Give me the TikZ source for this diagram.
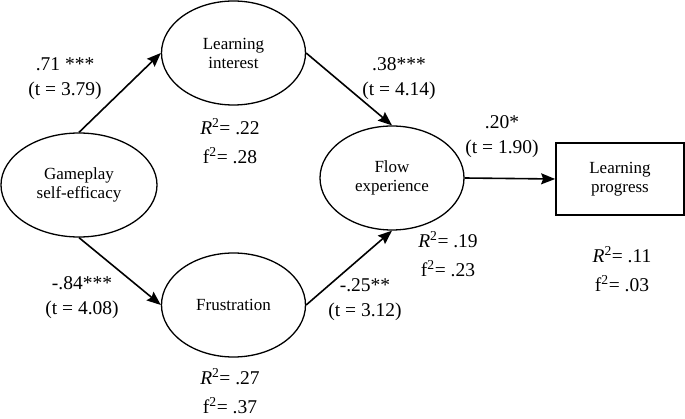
\documentclass[tikz,border=0pt]{standalone}
\usepackage{fontspec}
\setmainfont{Liberation Serif}
\usetikzlibrary{shapes.geometric,arrows.meta}

\begin{document}
\begin{tikzpicture}[x=1pt,y=-1pt,
        latent/.style={draw,ellipse,line width=1.3pt,inner sep=0pt,
            minimum width=144pt,minimum height=104pt,align=center,
            font=\fontsize{17}{19}\selectfont},
        observed/.style={draw,rectangle,line width=1.7pt,inner sep=0pt,
            minimum width=128pt,minimum height=72pt,align=center,
            font=\fontsize{17}{19}\selectfont},
        path/.style={line width=1.6pt,-{Stealth[length=14pt,width=11pt,inset=2pt]}},
        coef/.style={align=center,font=\fontsize{19.5}{25}\selectfont},
        rsq/.style={align=center,font=\fontsize{19.5}{29}\selectfont}]

        % Rahmen wie im Original (685 x 419)
        \useasboundingbox (0,0) rectangle (685,419);

        % Konstrukte
        \node[latent,minimum width=156pt] (G) at (79,185) {Gameplay\\self-efficacy};
        \node[latent] (LI) at (233.5,53) {Learning\\interest};
        \node[latent] (Fr) at (233.5,305) {Frustration};
        \node[latent] (Flow) at (392,178) {Flow\\experience};
        \node[observed] (LP) at (620,179) {Learning\\progress};

        % Pfade
        \draw[path] (G.north) -- (LI.west);
        \draw[path] (G.south) -- (Fr.west);
        \draw[path] (LI.east) -- (Flow.north);
        \draw[path] (Fr.east) -- (Flow.south);
        \draw[path] (Flow.east) -- (LP.west);

        % Koeffizienten
        \node[coef] (cGLI) at (65,79) {.71 ***\\(t = 3.79)};
        \node[coef] (cGFr) at (82,298) {-.84***\\(t = 4.08)};
        \node[coef] (cLIFlow) at (399,79) {.38***\\(t = 4.14)};
        \node[coef] (cFrFlow) at (365,300) {-.25**\\(t = 3.12)};
        \node[coef] (cFlowLP) at (502,137) {.20*\\(t = 1.90)};

        % R^2 und f^2
        \node[rsq] (rLI) at (230,141) {\textit{R}\textsuperscript{2}= .22\\f\textsuperscript{2}= .28};
        \node[rsq] (rFr) at (230,391) {\textit{R}\textsuperscript{2}= .27\\f\textsuperscript{2}= .37};
        \node[rsq] (rFlow) at (448,254) {\textit{R}\textsuperscript{2}= .19\\f\textsuperscript{2}= .23};
        \node[rsq] (rLP) at (622,269) {\textit{R}\textsuperscript{2}= .11\\f\textsuperscript{2}= .03};
    \end{tikzpicture}
\end{document}
